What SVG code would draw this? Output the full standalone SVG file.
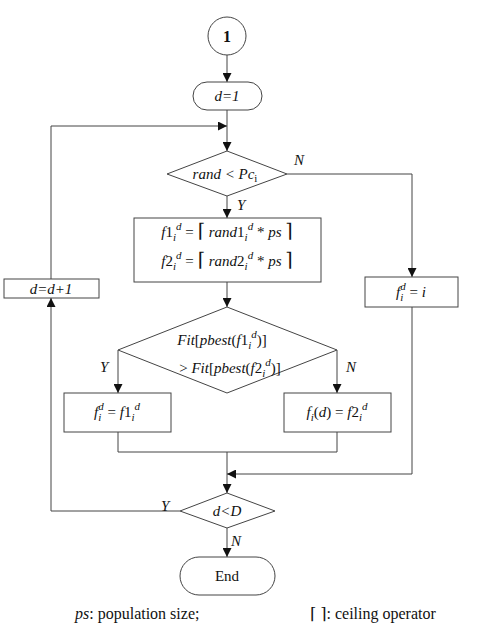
<svg xmlns="http://www.w3.org/2000/svg" width="479" height="642" viewBox="0 0 479 642" font-family="'Liberation Serif','Times New Roman','DejaVu Serif',serif">
<defs>
<marker id="ah" viewBox="0 0 10 10" refX="10" refY="5" markerWidth="9" markerHeight="9" markerUnits="userSpaceOnUse" orient="auto">
<path d="M0,0 L10,5 L0,10 Z" fill="#111"/>
</marker>
<style>
.shape{fill:#fff;stroke:#444;stroke-width:1}
.ln{fill:none;stroke:#444;stroke-width:1}
.arr{fill:none;stroke:#444;stroke-width:1;marker-end:url(#ah)}
text{font-family:'Liberation Serif','Times New Roman','DejaVu Serif',serif;font-size:15px;fill:#111}
.it{font-style:italic}
.c{text-anchor:middle}
.s{font-size:11px}
.br{font-size:19px;font-style:normal}
.lg{font-size:16px}
</style>
</defs>
<rect width="479" height="642" fill="#fff"/>
<g id="connectors">
<line class="arr" x1="227" y1="55" x2="227" y2="82"/>
<line class="arr" x1="227" y1="110" x2="227" y2="151"/>
<polyline class="arr" points="51,279 51,126 227,126"/>
<line class="arr" x1="227" y1="196" x2="227" y2="218"/>
<polyline class="arr" points="287,174 412,174 412,277"/>
<line class="arr" x1="227" y1="282" x2="227" y2="307"/>
<polyline class="arr" points="118,350 118,393"/>
<polyline class="arr" points="337,350 337,393"/>
<polyline class="ln" points="118,432 118,452 337,452 337,432"/>
<line class="arr" x1="227" y1="452" x2="227" y2="493"/>
<polyline class="arr" points="412,307 412,474 227,474"/>
<polyline class="arr" points="180,511 51,511 51,298"/>
<line class="arr" x1="227" y1="528" x2="227" y2="557"/>
<text class="it" x="294" y="165">N</text>
<text class="it" x="237" y="210">Y</text>
<text class="it" x="100" y="372">Y</text>
<text class="it" x="346" y="372">N</text>
<text class="it" x="161" y="511">Y</text>
<text class="it" x="231" y="546">N</text>
</g>
<g id="start">
<circle class="shape" cx="227" cy="36" r="19"/>
<text class="c" x="227" y="42" font-weight="bold" style="font-size:16px">1</text>
</g>
<g id="init">
<rect class="shape" x="193" y="82" width="69" height="28" rx="14"/>
<text class="c it" x="227" y="101">d=1</text>
</g>
<g id="cond1">
<polygon class="shape" points="227,151 287,174 227,196 167,174"/>
<text class="c it" x="225" y="179">rand &lt; Pc<tspan class="s" dy="3" font-style="normal">i</tspan></text>
</g>
<g id="assign">
<rect class="shape" x="134" y="218" width="187" height="64"/>
<text class="c it" x="227" y="237">f<tspan font-style="normal">1</tspan><tspan class="s" dy="4">i</tspan><tspan class="s" dy="-11">d</tspan><tspan dy="7" font-style="normal"> = </tspan><tspan class="br">⌈</tspan> rand<tspan font-style="normal">1</tspan><tspan class="s" dy="4">i</tspan><tspan class="s" dy="-11">d</tspan><tspan dy="7" font-style="normal"> * </tspan>ps <tspan class="br">⌉</tspan></text>
<text class="c it" x="227" y="266">f<tspan font-style="normal">2</tspan><tspan class="s" dy="4">i</tspan><tspan class="s" dy="-11">d</tspan><tspan dy="7" font-style="normal"> = </tspan><tspan class="br">⌈</tspan> rand<tspan font-style="normal">2</tspan><tspan class="s" dy="4">i</tspan><tspan class="s" dy="-11">d</tspan><tspan dy="7" font-style="normal"> * </tspan>ps <tspan class="br">⌉</tspan></text>
</g>
<g id="identity">
<rect class="shape" x="365" y="277" width="93" height="30"/>
<text class="c it" x="411" y="297">f<tspan class="s" dy="4">i</tspan><tspan class="s" dx="-3" dy="-11">d</tspan><tspan dy="7" font-style="normal"> = </tspan>i</text>
</g>
<g id="increment">
<rect class="shape" x="4" y="279" width="95" height="19"/>
<text class="c it" x="51" y="294">d=d+1</text>
</g>
<g id="cond2">
<polygon class="shape" points="227,307 337,350 227,393 118,350"/>
<text class="c it" x="222" y="345">Fit<tspan font-style="normal">[</tspan>pbest<tspan font-style="normal">(</tspan>f<tspan font-style="normal">1</tspan><tspan class="s" dy="4">i</tspan><tspan class="s" dy="-11">d</tspan><tspan dy="7" font-style="normal">)]</tspan></text>
<text class="c it" x="230" y="373"><tspan font-style="normal">&gt; </tspan>Fit<tspan font-style="normal">[</tspan>pbest<tspan font-style="normal">(</tspan>f<tspan font-style="normal">2</tspan><tspan class="s" dy="4">i</tspan><tspan class="s" dy="-11">d</tspan><tspan dy="7" font-style="normal">)]</tspan></text>
</g>
<g id="choose1">
<rect class="shape" x="64" y="393" width="107" height="39"/>
<text class="c it" x="117" y="417">f<tspan class="s" dy="4">i</tspan><tspan class="s" dx="-3" dy="-11">d</tspan><tspan dy="7" font-style="normal"> = </tspan>f<tspan font-style="normal">1</tspan><tspan class="s" dy="4">i</tspan><tspan class="s" dy="-11">d</tspan></text>
</g>
<g id="choose2">
<rect class="shape" x="284" y="393" width="107" height="39"/>
<text class="c it" x="337" y="417">f<tspan class="s" dy="4">i</tspan><tspan dy="-4" font-style="normal">(</tspan>d<tspan font-style="normal">) = </tspan>f<tspan font-style="normal">2</tspan><tspan class="s" dy="4">i</tspan><tspan class="s" dy="-11">d</tspan></text>
</g>
<g id="cond3">
<polygon class="shape" points="227,493 275,511 227,528 180,511"/>
<text class="c it" x="227" y="516">d&lt;D</text>
</g>
<g id="end">
<rect class="shape" x="180" y="557" width="95" height="38" rx="19"/>
<text class="c" x="227" y="581">End</text>
</g>
<g id="legend">
<text class="lg" x="75" y="619"><tspan class="it">ps</tspan>: population size;</text>
<text class="lg" x="310" y="619">⌈ ⌉: ceiling operator</text>
</g>
</svg>
